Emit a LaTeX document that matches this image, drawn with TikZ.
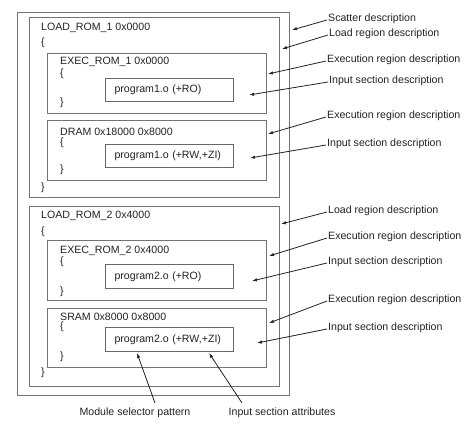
\documentclass[tikz,border=0pt]{standalone}
\usepackage{fontspec}
\setmainfont{Liberation Sans}
\usepackage{tikz}
\usetikzlibrary{arrows.meta, positioning}
\definecolor{boxgray}{HTML}{747474}
\definecolor{inkgray}{HTML}{222222}
\tikzset{
  regbox/.style={draw=boxgray, line width=1.3pt, anchor=north west,
                 inner sep=0pt},
  secbox/.style={draw=boxgray!90!black, line width=1.1pt, anchor=north west,
                 inner xsep=9pt, inner ysep=0pt, text width=110pt, align=left,
                 font=\fontsize{10.6}{12}\selectfont, text=inkgray},
  code/.style={anchor=west, inner sep=0pt, text=inkgray,
               font=\fontsize{10.6}{12}\selectfont},
  note/.style={anchor=west, inner sep=0pt, text=inkgray,
               font=\fontsize{10.6}{12}\selectfont},
  arr/.style={-{Latex[length=5pt,width=3.4pt]}, line width=0.8pt, inkgray},
}

\begin{document}
\begin{tikzpicture}[x=1pt, y=-1pt]
  \useasboundingbox (0,0) rectangle (474,434);

  % region boxes
  \node[regbox, minimum width=272pt, minimum height=383pt] (scatter) at (17,12) {};
  \node[regbox, minimum width=250pt, minimum height=180pt] (load1) at (29,17) {};
  \node[regbox, minimum width=219pt, minimum height=60pt] (exec1) at (47,53) {};
  \node[regbox, minimum width=219pt, minimum height=60pt] (dram) at (47,120) {};
  \node[regbox, minimum width=250pt, minimum height=180pt] (load2) at (29,206) {};
  \node[regbox, minimum width=219pt, minimum height=60pt] (exec2) at (47,240) {};
  \node[regbox, minimum width=219pt, minimum height=59pt] (sram) at (47,308) {};

  % input sections
  \node[secbox, minimum height=23pt] (in1a) at (105,78) {program1.o (+RO)};
  \node[secbox, minimum height=23pt] (in1b) at (105,144) {program1.o (+RW,+ZI)};
  \node[secbox, minimum height=24pt] (in2a) at (105,264) {program2.o (+RO)};
  \node[secbox, minimum height=24pt] (in2b) at (105,327) {program2.o (+RW,+ZI)};

  % code text
  \node[code] (l1name) at (41,28) {LOAD\_ROM\_1 0x0000};
  \node[code] (l1open) at (41,43) {\{};
  \node[code] (l1close) at (41,188) {\}};
  \node[code] (e1name) at (60,62) {EXEC\_ROM\_1 0x0000};
  \node[code] (e1open) at (60,74) {\{};
  \node[code] (e1close) at (60,103) {\}};
  \node[code] (d1name) at (60,132) {DRAM 0x18000 0x8000};
  \node[code] (d1open) at (60,143) {\{};
  \node[code] (d1close) at (60,170) {\}};
  \node[code] (l2name) at (41,216) {LOAD\_ROM\_2 0x4000};
  \node[code] (l2open) at (41,232) {\{};
  \node[code] (l2close) at (41,373) {\}};
  \node[code] (e2name) at (60,251) {EXEC\_ROM\_2 0x4000};
  \node[code] (e2open) at (60,262) {\{};
  \node[code] (e2close) at (60,292) {\}};
  \node[code] (s2name) at (60,317) {SRAM 0x8000 0x8000};
  \node[code] (s2open) at (60,327) {\{};
  \node[code] (s2close) at (60,357) {\}};

  % annotations
  \node[note] (scatnote) at (328,19) {Scatter description};
  \node[note] (ld1note) at (329,34) {Load region description};
  \node[note] (ex1note) at (327,60) {Execution region description};
  \node[note] (is1note) at (329,81) {Input section description};
  \node[note] (ex2note) at (327,116) {Execution region description};
  \node[note] (is2note) at (327,144) {Input section description};
  \node[note] (ld2note) at (328,211) {Load region description};
  \node[note] (ex3note) at (328,237) {Execution region description};
  \node[note] (is3note) at (328,262) {Input section description};
  \node[note] (ex4note) at (328,300) {Execution region description};
  \node[note] (is4note) at (328,328) {Input section description};
  \node[note, anchor=center] (modnote) at (135,413) {Module selector pattern};
  \node[note, anchor=center] (attnote) at (282,413) {Input section attributes};

  % arrow targets
  \coordinate (t-scat) at (292,30);
  \coordinate (t-ld1) at (282,49);
  \coordinate (t-ex1) at (268,74);
  \coordinate (t-is1) at (249,95);
  \coordinate (t-ex2) at (268,134);
  \coordinate (t-is2) at (250,158);
  \coordinate (t-ld2) at (281,224);
  \coordinate (t-ex3) at (269,256);
  \coordinate (t-is3) at (252,281);
  \coordinate (t-ex4) at (269,323);
  \coordinate (t-is4) at (257,343);
  \coordinate (t-mod) at (137,353);
  \coordinate (t-att) at (209,353);
  \coordinate (f-mod) at (155,403);
  \coordinate (f-att) at (242,403);

  \draw[arr] ([xshift=-1pt,yshift=-1pt]scatnote.west) -- (t-scat);
  \draw[arr] ([xshift=-1pt,yshift=-1pt]ld1note.west) -- (t-ld1);
  \draw[arr] ([xshift=-1pt,yshift=-1pt]ex1note.west) -- (t-ex1);
  \draw[arr] ([xshift=-1pt,yshift=-1pt]is1note.west) -- (t-is1);
  \draw[arr] ([xshift=-1pt,yshift=-1pt]ex2note.west) -- (t-ex2);
  \draw[arr] ([xshift=-1pt,yshift=-1pt]is2note.west) -- (t-is2);
  \draw[arr] ([xshift=-1pt,yshift=-1pt]ld2note.west) -- (t-ld2);
  \draw[arr] ([xshift=-1pt,yshift=-1pt]ex3note.west) -- (t-ex3);
  \draw[arr] ([xshift=-1pt,yshift=-1pt]is3note.west) -- (t-is3);
  \draw[arr] ([xshift=-1pt,yshift=-1pt]ex4note.west) -- (t-ex4);
  \draw[arr] ([xshift=-1pt,yshift=-1pt]is4note.west) -- (t-is4);
  \draw[arr] (f-mod) -- (t-mod);
  \draw[arr] (f-att) -- (t-att);
\end{tikzpicture}
\end{document}
